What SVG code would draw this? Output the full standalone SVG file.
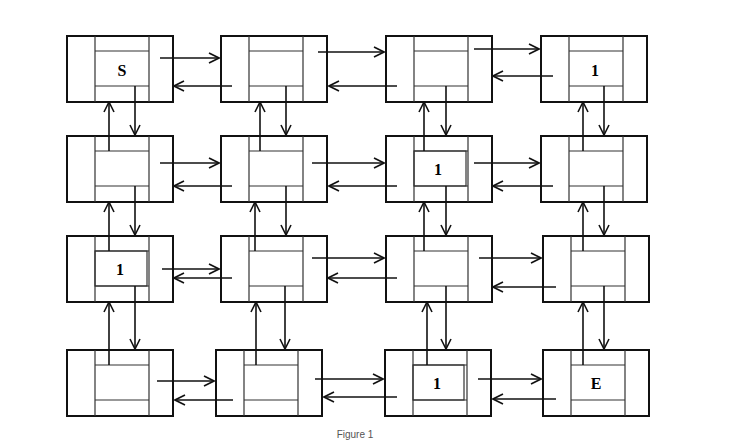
<svg xmlns="http://www.w3.org/2000/svg" width="732" height="440" viewBox="0 0 732 440">
<style>
.b{fill:#fff;stroke:#111;stroke-width:2}
.i{stroke:#333;stroke-width:1.2;fill:none}
.c{stroke:#111;stroke-width:1.6;fill:none;marker-end:url(#a)}
.t{font-family:"Liberation Serif",serif;font-weight:bold;font-size:16px;text-anchor:middle}
</style>
<defs>
<marker id="a" markerWidth="12" markerHeight="12" refX="11" refY="6" orient="auto" markerUnits="userSpaceOnUse"><path d="M1,1 L11,6 L1,11" fill="none" stroke="#111" stroke-width="1.6"/></marker>
<g id="n"><rect class="b" x="0" y="0" width="106" height="66"/><path class="i" d="M28,0V66M82,0V66M28,15H82M28,50H82"/></g>
</defs>
<rect width="732" height="440" fill="#fff"/>
<g id="n11"><use href="#n" x="67" y="36"/><text class="t" x="122" y="76">S</text></g>
<g id="n12"><use href="#n" x="221" y="36"/></g>
<g id="n13"><use href="#n" x="386" y="36"/></g>
<g id="n14"><use href="#n" x="541" y="36"/><text class="t" x="595" y="76">1</text></g>
<g id="n21"><use href="#n" x="67" y="136"/></g>
<g id="n22"><use href="#n" x="221" y="136"/></g>
<g id="n23"><use href="#n" x="386" y="136"/><rect class="i" x="414" y="151" width="52" height="35"/><text class="t" x="438" y="175">1</text></g>
<g id="n24"><use href="#n" x="541" y="136"/></g>
<g id="n31"><use href="#n" x="67" y="236"/><rect class="i" x="95" y="251" width="52" height="35"/><text class="t" x="120" y="275">1</text></g>
<g id="n32"><use href="#n" x="221" y="236"/></g>
<g id="n33"><use href="#n" x="386" y="236"/></g>
<g id="n34"><use href="#n" x="543" y="236"/></g>
<g id="n41"><use href="#n" x="67" y="350"/></g>
<g id="n42"><use href="#n" x="216" y="350"/></g>
<g id="n43"><use href="#n" x="385" y="350"/><rect class="i" x="413" y="365" width="51" height="35"/><text class="t" x="437" y="389">1</text></g>
<g id="n44"><use href="#n" x="543" y="350"/><text class="t" x="596" y="389">E</text></g>
<g id="edges">
<path class="c" d="M160,58H219"/><path class="c" d="M232,86H174"/>
<path class="c" d="M318,52H384"/><path class="c" d="M397,86H329"/>
<path class="c" d="M474,49H539"/><path class="c" d="M553,76H493"/>
<path class="c" d="M160,163H219"/><path class="c" d="M232,186H174"/>
<path class="c" d="M312,163H384"/><path class="c" d="M397,186H329"/>
<path class="c" d="M474,163H539"/><path class="c" d="M553,186H493"/>
<path class="c" d="M162,269H219"/><path class="c" d="M232,278H174"/>
<path class="c" d="M312,258H384"/><path class="c" d="M397,278H328"/>
<path class="c" d="M479,258H541"/><path class="c" d="M556,287H493"/>
<path class="c" d="M157,381H214"/><path class="c" d="M233,400H175"/>
<path class="c" d="M315,379H383"/><path class="c" d="M397,397H324"/>
<path class="c" d="M478,379H541"/><path class="c" d="M556,399H493"/>
<path class="c" d="M109,151V102"/><path class="c" d="M135,86V135"/>
<path class="c" d="M260,151V102"/><path class="c" d="M286,86V135"/>
<path class="c" d="M424,151V102"/><path class="c" d="M446,86V135"/>
<path class="c" d="M583,151V102"/><path class="c" d="M604,86V135"/>
<path class="c" d="M109,251V202"/><path class="c" d="M135,186V235"/>
<path class="c" d="M255,251V202"/><path class="c" d="M286,186V235"/>
<path class="c" d="M424,251V202"/><path class="c" d="M446,186V235"/>
<path class="c" d="M583,251V202"/><path class="c" d="M604,186V235"/>
<path class="c" d="M109,365V302"/><path class="c" d="M135,286V349"/>
<path class="c" d="M256,365V302"/><path class="c" d="M285,286V349"/>
<path class="c" d="M427,365V302"/><path class="c" d="M446,286V349"/>
<path class="c" d="M583,365V302"/><path class="c" d="M604,286V349"/>
</g>
<text x="355" y="438" font-family="Liberation Sans,sans-serif" font-size="10" text-anchor="middle" fill="#555">Figure 1</text>
</svg>
